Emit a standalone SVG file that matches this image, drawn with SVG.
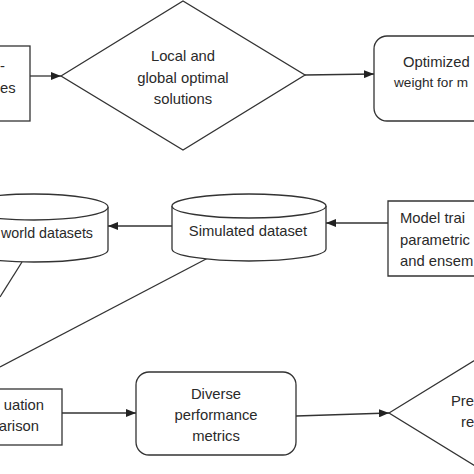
<svg xmlns="http://www.w3.org/2000/svg" width="474" height="474" viewBox="0 0 474 474">
<style>
.s{fill:#fff;stroke:#333;stroke-width:1.3}
.t{font-family:"Liberation Sans",Arial,sans-serif;font-size:14.8px;fill:#2a2a2a}
.c{stroke:#333;stroke-width:1.3;fill:none}
</style>
<defs>
<marker id="ah" markerWidth="10" markerHeight="8" refX="10" refY="4" orient="auto" markerUnits="userSpaceOnUse">
<path d="M0,0 L10,4 L0,8 Z" fill="#222"/>
</marker>
</defs>
<rect width="474" height="474" fill="#fff"/>
<g id="connectors">
<line class="c" x1="30" y1="76" x2="61" y2="76" marker-end="url(#ah)"/>
<line class="c" x1="305" y1="75" x2="374" y2="74" marker-end="url(#ah)"/>
<line class="c" x1="388" y1="223" x2="326" y2="223" marker-end="url(#ah)"/>
<line class="c" x1="172" y1="226" x2="108" y2="226" marker-end="url(#ah)"/>
<line class="c" x1="22" y1="262" x2="0" y2="297"/>
<line class="c" x1="208" y1="258" x2="0" y2="367"/>
<line class="c" x1="62" y1="413" x2="136" y2="413" marker-end="url(#ah)"/>
<line class="c" x1="296" y1="416" x2="389" y2="413" marker-end="url(#ah)"/>
</g>
<g id="n1">
<rect class="s" x="-40" y="46" width="70" height="75"/>
<text class="t" x="0" y="71">-</text>
<text class="t" x="0" y="93">es</text>
</g>
<g id="n2">
<polygon class="s" points="61,76 183,1 305,75 183,150"/>
<text class="t" x="183" y="61" text-anchor="middle">Local and</text>
<text class="t" x="183" y="83" text-anchor="middle">global optimal</text>
<text class="t" x="183" y="104" text-anchor="middle">solutions</text>
</g>
<g id="n3">
<rect class="s" x="374" y="36" width="140" height="85" rx="13"/>
<text class="t" x="403" y="67">Optimized</text>
<text class="t" x="394" y="87" style="font-size:13.6px">weight for m</text>
</g>
<g id="n4">
<path class="s" d="M388,201 H480 V276 H388 Z"/>
<text class="t" x="400" y="223">Model trai</text>
<text class="t" x="400" y="245">parametric</text>
<text class="t" x="400" y="266">and ensem</text>
</g>
<g id="n5">
<path class="s" d="M172,206 V249 A77,12 0 0 0 326,249 V206"/>
<ellipse class="s" cx="249" cy="206" rx="77" ry="12"/>
<text class="t" x="248" y="236" text-anchor="middle">Simulated dataset</text>
</g>
<g id="n6">
<path class="s" d="M-40,207 V250 A74,12 0 0 0 108,250 V207"/>
<ellipse class="s" cx="34" cy="207" rx="74" ry="13"/>
<text class="t" x="1" y="238" textLength="92" lengthAdjust="spacingAndGlyphs">world datasets</text>
</g>
<g id="n7">
<rect class="s" x="-40" y="389" width="102" height="56"/>
<text class="t" x="44" y="410" text-anchor="end">uation</text>
<text class="t" x="39" y="431" text-anchor="end">arison</text>
</g>
<g id="n8">
<rect class="s" x="136" y="372" width="160" height="83" rx="13"/>
<text class="t" x="216" y="399" text-anchor="middle">Diverse</text>
<text class="t" x="216" y="420" text-anchor="middle">performance</text>
<text class="t" x="216" y="441" text-anchor="middle">metrics</text>
</g>
<g id="n9">
<polygon class="s" points="389,413 511,338 633,413 511,488"/>
<text class="t" x="451" y="406">Pre</text>
<text class="t" x="461" y="427">re</text>
</g>
</svg>
